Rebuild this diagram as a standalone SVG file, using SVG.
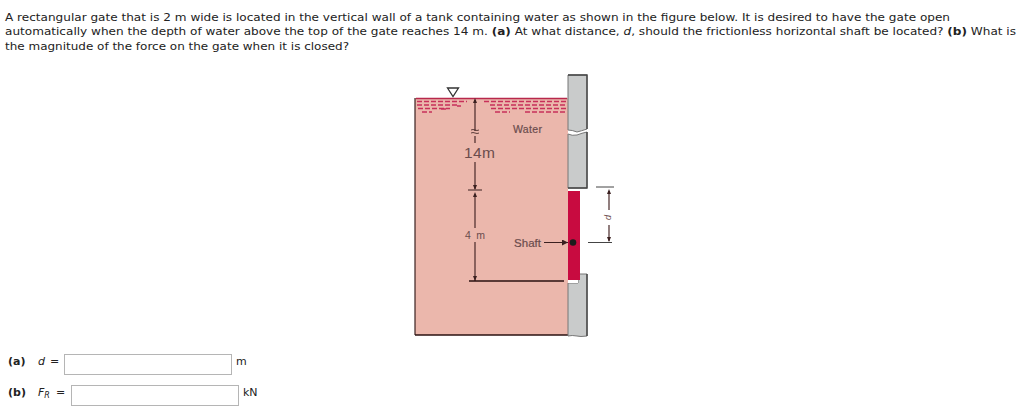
<svg xmlns="http://www.w3.org/2000/svg" width="1024" height="408" viewBox="0 0 1024 408">
<style>
.t{font-family:"DejaVu Sans",Verdana,sans-serif;font-size:11px;fill:#222}
.b{font-weight:bold}
.i{font-style:italic}
.f{font-family:"Liberation Sans",Arial,sans-serif;fill:#6a4c4c}
.l{stroke:#4a2a2a;stroke-width:1.2;fill:none}
.w{fill:#c9cbcb;stroke:#777;stroke-width:1}
.e{stroke:#444;stroke-width:1.4;fill:none}
.box{fill:#fff;stroke:#b5b5b5;stroke-width:1}
.d{stroke:#c8305a;stroke-width:1.500;stroke-dasharray:5 2;fill:none}
</style>
<defs>
<marker id="a" markerWidth="7" markerHeight="7" refX="6" refY="3" orient="auto-start-reverse"><path d="M0 0L6 3L0 6z" fill="#3a2020"/></marker>
</defs>
<rect width="1024" height="408" fill="#fff"/>
<text class="t" x="5" y="21" textLength="945" lengthAdjust="spacingAndGlyphs">A rectangular gate that is 2 m wide is located in the vertical wall of a tank containing water as shown in the figure below. It is desired to have the gate open</text>
<text class="t" x="5" y="35" textLength="1011" lengthAdjust="spacingAndGlyphs">automatically when the depth of water above the top of the gate reaches 14 m. <tspan class="b">(a)</tspan> At what distance, <tspan class="i">d</tspan>, should the frictionless horizontal shaft be located? <tspan class="b">(b)</tspan> What is</text>
<text class="t" x="5" y="50" textLength="344" lengthAdjust="spacingAndGlyphs">the magnitude of the force on the gate when it is closed?</text>

<rect x="415" y="98" width="153" height="237" fill="#ebb7ac"/>
<path d="M415 335V98" fill="none" stroke="#3a2020" stroke-width="1.2"/>
<path d="M415 335H568" stroke="#2a1010" stroke-width="1.4"/>
<path d="M416 98.500H567" stroke="#b8284c" stroke-width="1.500"/>
<path class="d" d="M417 101.500H467M484 101.500H567M417 105H458M490 105H567"/>
<path class="d" d="M418 108.500H450M491 108.500H567M422 112H432M441 109H447M457 106H461M495 112H510M525 112H567"/>
<path d="M447.500 88H458.500L453 96.500z" fill="#fff" stroke="#333" stroke-width="1.300"/>

<g id="wall">
<path class="w" d="M568 75H587V129Q581 131 577 132Q572 130 568 130z"/>
<path class="w" d="M568 134Q572 136 577 135Q582 133 587 132V188H568z"/>
<path class="w" d="M568 283H578V274H587V336Q580 337 577 336Q572 335 568 336z"/>
<path class="e" d="M568 75H587V129M587 132V188H568M587 274V336"/>
</g>
<rect x="568" y="191" width="12" height="89" fill="#c80b40"/>
<rect x="568" y="280" width="10" height="3" fill="#fff"/>

<path class="l" d="M475 100V131M475 136V143M475 162V189M475 195V228M475 242V281"/>
<path d="M475 98L473 103H477zM475 190L473 185H477zM475 192L473 197H477zM475 281L473 276H477z" fill="#3a2020"/>
<path d="M471 130Q473 129 475 130T479 130M471 133Q473 132 475 133T479 133" fill="none" stroke="#3a2020" stroke-width="0.8"/>
<path d="M468 190H482" stroke="#3a2020" stroke-width="1"/>
<path d="M469 281H564" stroke="#2a1010" stroke-width="1.400"/>
<text class="f" x="513" y="133" font-size="10.500" textLength="29" stroke="#6a4c4c" stroke-width="0.200">Water</text>
<text class="f" x="464" y="158" font-size="15.500" textLength="31">14m</text>
<text class="f" x="465" y="239" font-size="10.500" textLength="20">4 m</text>
<text class="f" x="514" y="247" font-size="11.500" textLength="27" stroke="#6a4c4c" stroke-width="0.200">Shaft</text>
<path d="M544 242.500H568" stroke="#3a2020" stroke-width="1" marker-end="url(#a)"/>
<circle cx="573" cy="242.500" r="3.300" fill="#1c1c1c"/>

<path d="M596 187H614M588 242.500H612" stroke="#444" stroke-width="1"/>
<path class="l" d="M609 191V210M609 225V241"/>
<path d="M609 189L607 194H611zM609 242L607 237H611z" fill="#3a2020"/>
<text class="f i" x="611" y="220" font-size="9" transform="rotate(-90 611 220)">d</text>

<text class="t b" x="8" y="365">(a)</text>
<text class="t i" x="38" y="365">d</text>
<text class="t" x="50" y="365">=</text>
<rect class="box" x="64.500" y="354.500" width="167" height="20"/>
<text class="t" x="236" y="365">m</text>
<text class="t b" x="8" y="396">(b)</text>
<text class="t i" x="38" y="396">F<tspan font-size="8" dy="2">R</tspan></text>
<text class="t" x="56" y="396">=</text>
<rect class="box" x="71.500" y="385.500" width="167" height="20"/>
<text class="t" x="243" y="396">kN</text>
</svg>
